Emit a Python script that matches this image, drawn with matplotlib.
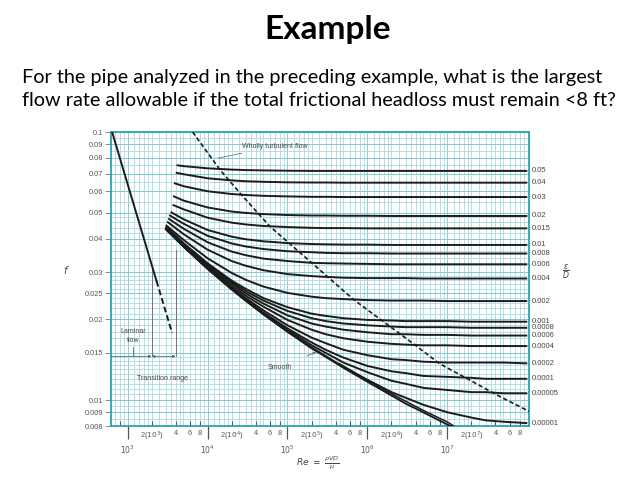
import matplotlib.pyplot as plt
import matplotlib.transforms as mtransforms
import numpy as np

# ---- data ----
# Reynolds numbers at which every curve was read
re_grid = [5e3, 1e4, 2e4, 3e4, 5e4, 1e5, 2e5, 3e5, 5e5, 1e6, 2e6, 3e6, 5e6,
           1e7, 2e7, 3e7, 5e7, 1e8]

rel_rough = ["0.05", "0.04", "0.03", "0.02", "0.015", "0.01", "0.008", "0.006",
             "0.004", "0.002", "0.001", "0.0008", "0.0006", "0.0004", "0.0002",
             "0.0001", "0.00005", "0.00001"]

# where each curve begins on the left
re_start = [4100, 4000, 3800, 3700, 3650, 3450, 3310, 3220, 3125, 3000,
            3000, 3000, 3000, 3000, 3000, 3000, 3000, 3000]
f_start = [0.0752, 0.0705, 0.0645, 0.0577, 0.0535, 0.0503, 0.0490, 0.0476,
           0.0463, 0.0450, 0.0444, 0.0442, 0.0440, 0.0438, 0.0437, 0.0436,
           0.0436, 0.0435]

# friction factor of each curve at re_grid
f_005 = [0.0746, 0.0732, 0.0724, 0.0721, 0.0719, 0.0717, 0.0716, 0.0716, 0.0716, 0.0716, 0.0716, 0.0716, 0.0716, 0.0716, 0.0716, 0.0716, 0.0716, 0.0716]
f_004 = [0.0696, 0.0672, 0.0660, 0.0655, 0.0652, 0.0649, 0.0648, 0.0648, 0.0647, 0.0647, 0.0647, 0.0647, 0.0647, 0.0647, 0.0647, 0.0647, 0.0647, 0.0647]
f_003 = [0.0628, 0.0601, 0.0587, 0.0582, 0.0578, 0.0575, 0.0573, 0.0573, 0.0572, 0.0572, 0.0572, 0.0572, 0.0572, 0.0572, 0.0572, 0.0572, 0.0572, 0.0572]
f_002 = [0.0555, 0.0523, 0.0505, 0.0499, 0.0494, 0.0490, 0.0488, 0.0488, 0.0487, 0.0487, 0.0486, 0.0486, 0.0486, 0.0486, 0.0486, 0.0486, 0.0486, 0.0486]
f_0015 = [0.0515, 0.0479, 0.0459, 0.0452, 0.0446, 0.0442, 0.0439, 0.0438, 0.0438, 0.0437, 0.0437, 0.0437, 0.0437, 0.0437, 0.0437, 0.0437, 0.0437, 0.0437]
f_001 = [0.0473, 0.0431, 0.0407, 0.0398, 0.0391, 0.0385, 0.0382, 0.0381, 0.0380, 0.0380, 0.0379, 0.0379, 0.0379, 0.0379, 0.0379, 0.0379, 0.0379, 0.0379]
f_0008 = [0.0455, 0.0410, 0.0384, 0.0374, 0.0366, 0.0359, 0.0356, 0.0354, 0.0353, 0.0353, 0.0352, 0.0352, 0.0352, 0.0352, 0.0352, 0.0352, 0.0352, 0.0352]
f_0006 = [0.0436, 0.0388, 0.0358, 0.0347, 0.0337, 0.0330, 0.0325, 0.0324, 0.0323, 0.0322, 0.0321, 0.0321, 0.0321, 0.0321, 0.0321, 0.0321, 0.0321, 0.0321]
f_0004 = [0.0416, 0.0364, 0.0330, 0.0317, 0.0305, 0.0295, 0.0290, 0.0288, 0.0286, 0.0285, 0.0285, 0.0285, 0.0284, 0.0284, 0.0284, 0.0284, 0.0284, 0.0284]
f_0002 = [0.0396, 0.0338, 0.0298, 0.0281, 0.0265, 0.0251, 0.0243, 0.0240, 0.0238, 0.0236, 0.0235, 0.0235, 0.0235, 0.0234, 0.0234, 0.0234, 0.0234, 0.0234]
f_0001 = [0.0385, 0.0324, 0.0279, 0.0260, 0.0240, 0.0222, 0.0210, 0.0206, 0.0202, 0.0199, 0.0198, 0.0197, 0.0197, 0.0197, 0.0196, 0.0196, 0.0196, 0.0196]
f_00008 = [0.0383, 0.0321, 0.0276, 0.0255, 0.0235, 0.0215, 0.0202, 0.0197, 0.0193, 0.0190, 0.0188, 0.0187, 0.0187, 0.0187, 0.0186, 0.0186, 0.0186, 0.0186]
f_00006 = [0.0380, 0.0318, 0.0272, 0.0250, 0.0229, 0.0207, 0.0193, 0.0188, 0.0183, 0.0179, 0.0176, 0.0176, 0.0175, 0.0175, 0.0174, 0.0174, 0.0174, 0.0174]
f_00004 = [0.0378, 0.0315, 0.0267, 0.0245, 0.0223, 0.0199, 0.0183, 0.0176, 0.0170, 0.0165, 0.0162, 0.0161, 0.0160, 0.0160, 0.0159, 0.0159, 0.0159, 0.0159]
f_00002 = [0.0376, 0.0312, 0.0263, 0.0240, 0.0216, 0.0190, 0.0171, 0.0163, 0.0154, 0.0147, 0.0142, 0.0141, 0.0139, 0.0138, 0.0138, 0.0138, 0.0138, 0.0137]
f_00001 = [0.0375, 0.0310, 0.0261, 0.0238, 0.0212, 0.0185, 0.0164, 0.0154, 0.0144, 0.0134, 0.0128, 0.0126, 0.0123, 0.0122, 0.0121, 0.0120, 0.0120, 0.0120]
f_000005 = [0.0375, 0.0310, 0.0260, 0.0236, 0.0211, 0.0183, 0.0160, 0.0150, 0.0138, 0.0127, 0.0118, 0.0115, 0.0111, 0.0109, 0.0107, 0.0107, 0.0106, 0.0106]
f_000001 = [0.0374, 0.0309, 0.0259, 0.0235, 0.0209, 0.0180, 0.0157, 0.0146, 0.0133, 0.0119, 0.0107, 0.0102, 0.0096, 0.0090, 0.0086, 0.0084, 0.0083, 0.0082]
f_rough = [f_005, f_004, f_003, f_002, f_0015, f_001, f_0008, f_0006, f_0004,
           f_0002, f_0001, f_00008, f_00006, f_00004, f_00002, f_00001,
           f_000005, f_000001]

# smooth pipe
re_smooth = [3000, 5e3, 1e4, 2e4, 3e4, 5e4, 1e5, 2e5, 3e5, 5e5, 1e6, 2e6, 3e6, 5e6, 1e7, 2e7]
f_smooth = [0.0434, 0.0374, 0.0309, 0.0259, 0.0235, 0.0209, 0.0180, 0.0156, 0.0145,
            0.0132, 0.0117, 0.0104, 0.0097, 0.0090, 0.0081, 0.0073]

# short curve running just above the smooth one
re_near_smooth = [4.5e5, 1e6, 2e6, 5e6, 1e7, 1.2e7]
f_near_smooth = [0.01365, 0.01185, 0.01055, 0.00915, 0.00828, 0.00800]

# laminar line, solid then dashed
re_lam = [640, 2300]
f_lam = [0.100, 0.0278]
re_lam_dash = [2300, 3600]
f_lam_dash = [0.0278, 0.0178]

# wholly turbulent boundary (dashed)
re_wt = [6500, 1.43e4, 2.66e4, 6.0e4, 2.53e5, 6.6e5, 1.57e6, 3.9e6, 8.0e6, 1.81e7, 3.9e7, 1.05e8]
f_wt = [0.100, 0.0723, 0.0583, 0.0445, 0.0306, 0.0238, 0.01965, 0.01608, 0.01366, 0.01197, 0.01055, 0.00907]

f_ticks = [0.008, 0.009, 0.01, 0.015, 0.02, 0.025, 0.03, 0.04, 0.05, 0.06, 0.07, 0.08, 0.09, 0.1]
f_ticklabels = ["0.008", "0.009", "0.01", "0.015", "0.02", "0.025", "0.03", "0.04",
                "0.05", "0.06", "0.07", "0.08", "0.09", "0.1"]
re_major = [1e3, 1e4, 1e5, 1e6, 1e7]
re_major_labels = ["$10^3$", "$10^4$", "$10^5$", "$10^6$", "$10^7$"]

# ---- figure ----
fig = plt.figure(figsize=(6.38, 4.78), dpi=100)
fig.text(0.513, 1 - 30 / 478, "Example", ha="center", va="center",
         fontsize=24, fontweight="bold", family="Lato")
fig.text(22 / 638, 1 - 77 / 478,
         "For the pipe analyzed in the preceding example, what is the largest",
         ha="left", va="center", fontsize=14.3, family="Lato")
fig.text(22 / 638, 1 - 101 / 478,
         "flow rate allowable if the total frictional headloss must remain <8 ft?",
         ha="left", va="center", fontsize=14.3, family="Lato")

ax = fig.add_axes([111 / 638, 1 - 426 / 478, 418 / 638, 294 / 478])
ax.set_xscale("log")
ax.set_yscale("log")
ax.set_xlim(620, 1.05e8)
ax.set_ylim(0.008, 0.1)

# background grid
grid_c = "#a9d9df"
mult = [1, 1.2, 1.4, 1.6, 1.8, 2, 2.5, 3, 3.5, 4, 4.5, 5, 6, 7, 8, 9]
for dec in [1e2, 1e3, 1e4, 1e5, 1e6, 1e7]:
    for m in mult:
        v = dec * m
        if 620 < v < 1.05e8:
            ax.axvline(v, color=grid_c if m != 1 else "#7cc6cf", lw=0.6, zorder=0)
hgrid = list(np.arange(0.0085, 0.015, 0.0005)) + list(np.arange(0.015, 0.03, 0.001)) \
    + list(np.arange(0.03, 0.05, 0.002)) + list(np.arange(0.05, 0.1, 0.005))
for v in hgrid:
    ax.axhline(v, color=grid_c, lw=0.6, zorder=0)
for v in f_ticks:
    ax.axhline(v, color="#7cc6cf", lw=0.6, zorder=0)

line_c = "#1c1c1c"
for i in range(len(rel_rough)):
    ax.plot([re_start[i]] + re_grid, [f_start[i]] + f_rough[i], color=line_c, lw=1.4,
            solid_capstyle="butt", solid_joinstyle="round", zorder=3)
ax.plot(re_smooth, f_smooth, color=line_c, lw=1.4, solid_joinstyle="round", zorder=3)
ax.plot(re_near_smooth, f_near_smooth, color=line_c, lw=1.1, zorder=3)
ax.plot(re_lam, f_lam, color=line_c, lw=1.4, zorder=3)
ax.plot(re_lam_dash, f_lam_dash, color=line_c, lw=1.4, ls=(0, (3, 1.6)), zorder=3)
ax.plot(re_wt, f_wt, color=line_c, lw=1.2, ls=(0, (2.6, 1.6)), zorder=3)

# labels for eps/D at the right edge
trans = mtransforms.blended_transform_factory(ax.transAxes, ax.transData)
for i, lab in enumerate(rel_rough):
    ax.text(1.006, f_rough[i][-1], lab, transform=trans, ha="left", va="center",
            fontsize=5.5, color="#444444", family="Liberation Sans", clip_on=False)

# annotations
txt = dict(fontsize=5, color="#444444", family="Liberation Sans")
ax.annotate("Wholly turbulent flow", xy=(1.25e4, 0.0795), xytext=(2.7e4, 0.0884),
            ha="left", va="center",
            arrowprops=dict(arrowstyle="-", color="#777777", lw=0.6), **txt)
ax.text(1180, 0.0173, "Laminar\nflow", ha="center", va="center", linespacing=1.3, **txt)
ax.plot([1170, 1170], [0.0158, 0.01455], color="#666666", lw=0.6)
ax.plot([2000, 2000], [0.032, 0.01455], color="#666666", lw=0.6)
ax.plot([4000, 4000], [0.0364, 0.01455], color="#666666", lw=0.6)
ax.annotate("", xy=(2000, 0.01455), xytext=(620, 0.01455),
            arrowprops=dict(arrowstyle="-|>", color="#666666", lw=0.6,
                            mutation_scale=4, shrinkA=0, shrinkB=0))
ax.annotate("", xy=(4000, 0.01455), xytext=(2000, 0.01455),
            arrowprops=dict(arrowstyle="<|-|>", color="#666666", lw=0.6,
                            mutation_scale=4, shrinkA=0, shrinkB=0))
ax.text(2700, 0.0120, "Transition range", ha="center", va="center", **txt)
ax.annotate("Smooth", xy=(2.29e5, 0.0151), xytext=(8.1e4, 0.01327),
            ha="center", va="center",
            arrowprops=dict(arrowstyle="-|>", color="#777777", lw=0.6,
                            mutation_scale=4, shrinkA=9, shrinkB=0), **txt)

# axes look
for s in ax.spines.values():
    s.set_color("#2aa3b2")
    s.set_linewidth(1.3)

ax.set_yticks(f_ticks)
ax.set_yticklabels(f_ticklabels)
ax.set_yticks([], minor=True)
ax.tick_params(axis="y", which="major", direction="out", length=4, width=0.6,
               color="#777777", labelsize=5.3, labelcolor="#555555", pad=1.5)

re_minor = [800]
re_minor_labels = [""]
for k in range(3, 8):
    for m in [2, 4, 6, 8]:
        re_minor.append(m * 10 ** k)
        re_minor_labels.append("2($10^%d$)" % k if m == 2 else str(m))
ax.set_xticks(re_major)
ax.set_xticklabels(re_major_labels)
ax.set_xticks(re_minor, minor=True)
ax.set_xticklabels(re_minor_labels, minor=True)
ax.tick_params(axis="x", which="major", direction="out", length=9.5, width=0.9,
               color="#555555", labelsize=5.5, labelcolor="#555555", pad=3)
ax.tick_params(axis="x", which="minor", direction="in", length=3.5, width=0.8,
               color="#555555", labelsize=5.3, labelcolor="#555555", pad=3)
for lab in ax.get_xticklabels(minor=True) + ax.get_xticklabels() + ax.get_yticklabels():
    lab.set_family("Liberation Sans")

fig.text(66 / 638, 1 - 270 / 478, "$f$", ha="center", va="center", fontsize=7,
         color="#444444")
fig.text(566 / 638, 1 - 272 / 478, r"$\frac{\varepsilon}{D}$", ha="center",
         va="center", fontsize=8, color="#444444")
fig.text(318 / 638, 1 - 463 / 478, r"$Re\ =\ \frac{\rho VD}{\mu}$", ha="center",
         va="center", fontsize=6.5, color="#444444")

fig.savefig("out.png", dpi=100)
